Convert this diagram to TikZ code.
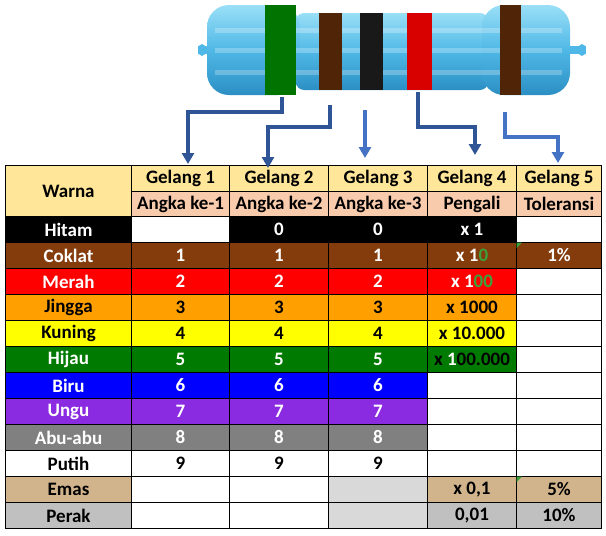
\documentclass[tikz,border=0pt]{standalone}
\usepackage{fontspec}
\setmainfont{Carlito}
\usetikzlibrary{arrows.meta}
\definecolor{hdr}{HTML}{FFE699}
\definecolor{hdrb}{HTML}{F8CBAD}
\definecolor{cok}{HTML}{843C0C}
\definecolor{mer}{HTML}{FF0000}
\definecolor{jin}{HTML}{FFA000}
\definecolor{kun}{HTML}{FFFF00}
\definecolor{hij}{HTML}{007A00}
\definecolor{bir}{HTML}{0000FF}
\definecolor{ung}{HTML}{8A2BE2}
\definecolor{abu}{HTML}{808080}
\definecolor{ema}{HTML}{D2B48C}
\definecolor{per}{HTML}{C0C0C0}
\definecolor{lgr}{HTML}{D9D9D9}
\definecolor{arA}{HTML}{2F5597}
\definecolor{arB}{HTML}{4472C4}
\definecolor{resb}{HTML}{4FB8E6}
\definecolor{resd}{HTML}{2C8FC4}
\definecolor{resl}{HTML}{9ADFF7}
\definecolor{gx}{HTML}{3CA03C}
\tikzset{
 cellbox/.style={draw=black,line width=1pt,inner sep=0pt,font=\fontsize{19}{20}\selectfont\bfseries},
 conn/.style={line width=3.4pt,-{Triangle[length=11pt,width=12pt]}},
 resbody/.style={top color=resl,bottom color=resd,middle color=resb},
}
\newcommand{\mycell}[8]{\node[cellbox,fill=#6,text=#7,minimum width=#3-#2,minimum height=#5-#4,anchor=north west] (#1) at (#2,#4) {#8};}
\begin{document}
\begin{tikzpicture}[x=1pt,y=-1pt]
\useasboundingbox (0,0) rectangle (606,536);
% resistor
\fill[resb] (202,50) ellipse (4 and 6);
\fill[resb] (582,50) ellipse (4 and 6);
\fill[resb] (198,46) rectangle (214,54);
\fill[resb] (570,46) rectangle (586,54);
\shade[resbody,rounded corners=8pt] (296,13) rectangle (488,90);
\shade[resbody,rounded corners=22pt] (207,5) rectangle (300,95);
\shade[resbody,rounded corners=22pt] (482,5) rectangle (570,95);
\foreach \yy in {28,48,70} {\fill[white,opacity=0.25] (215,\yy) rectangle (562,\yy+5);}
\fill[green!45!black] (265,5) rectangle (296,95);
\fill[cok!60!black] (319,13) rectangle (342,90);
\fill[black!90] (360,13) rectangle (383,90);
\fill[red!85!black] (407,13) rectangle (432,90);
\fill[cok!60!black] (500,5) rectangle (521,95);
% table
\mycell{w}{5}{131}{165}{216}{hdr}{black}{Warna}
\mycell{g1}{131}{229}{165}{191}{hdr}{black}{Gelang 1}
\mycell{g2}{229}{328}{165}{191}{hdr}{black}{Gelang 2}
\mycell{g3}{328}{427}{165}{191}{hdr}{black}{Gelang 3}
\mycell{g4}{427}{516}{165}{191}{hdr}{black}{Gelang 4}
\mycell{g5}{516}{601}{165}{191}{hdr}{black}{Gelang 5}
\mycell{a1}{131}{229}{191}{216}{hdrb}{black}{Angka ke-1}
\mycell{a2}{229}{328}{191}{216}{hdrb}{black}{Angka ke-2}
\mycell{a3}{328}{427}{191}{216}{hdrb}{black}{Angka ke-3}
\mycell{a4}{427}{516}{191}{216}{hdrb}{black}{Pengali}
\mycell{a5}{516}{601}{191}{216}{hdrb}{black}{Toleransi}
\newcommand{\rc}[6]{%
 \pgfmathsetmacro{\yt}{216+26*#1}\pgfmathsetmacro{\yb}{\yt+26}%
 \ifcase#2\or\def\xa{131}\def\xb{229}\or\def\xa{229}\def\xb{328}\or\def\xa{328}\def\xb{427}\or\def\xa{427}\def\xb{516}\or\def\xa{516}\def\xb{601}\fi
 \mycell{r#1c#2}{\xa}{\xb}{\yt}{\yb}{#3}{#4}{#5}}
\mycell{h0}{5}{131}{216}{242}{black}{white}{Hitam}
\rc{0}{1}{white}{black}{}{} \rc{0}{2}{black}{white}{0}{} \rc{0}{3}{black}{white}{0}{} \rc{0}{4}{black}{white}{x 1}{} \rc{0}{5}{white}{black}{}{}
\mycell{h1}{5}{131}{242}{268}{cok}{white}{Coklat}
\rc{1}{1}{cok}{white}{1}{} \rc{1}{2}{cok}{white}{1}{} \rc{1}{3}{cok}{white}{1}{} \rc{1}{4}{cok}{white}{x 1\textcolor{gx}{0}}{} \rc{1}{5}{cok}{white}{1\%}{}
\mycell{h2}{5}{131}{268}{294}{mer}{white}{Merah}
\rc{2}{1}{mer}{white}{2}{} \rc{2}{2}{mer}{white}{2}{} \rc{2}{3}{mer}{white}{2}{} \rc{2}{4}{mer}{white}{x 1\textcolor{gx}{00}}{} \rc{2}{5}{white}{black}{}{}
\mycell{h3}{5}{131}{294}{320}{jin}{black}{Jingga}
\rc{3}{1}{jin}{black}{3}{} \rc{3}{2}{jin}{black}{3}{} \rc{3}{3}{jin}{black}{3}{} \rc{3}{4}{jin}{black}{x 1000}{} \rc{3}{5}{white}{black}{}{}
\mycell{h4}{5}{131}{320}{346}{kun}{black}{Kuning}
\rc{4}{1}{kun}{black}{4}{} \rc{4}{2}{kun}{black}{4}{} \rc{4}{3}{kun}{black}{4}{} \rc{4}{4}{kun}{black}{x 10.000}{} \rc{4}{5}{white}{black}{}{}
\mycell{h5}{5}{131}{346}{372}{hij}{white}{Hijau}
\rc{5}{1}{hij}{white}{5}{} \rc{5}{2}{hij}{white}{5}{} \rc{5}{3}{hij}{white}{5}{} \rc{5}{4}{hij}{black}{x \textcolor{white}{1}00.000}{} \rc{5}{5}{white}{black}{}{}
\mycell{h6}{5}{131}{372}{398}{bir}{white}{Biru}
\rc{6}{1}{bir}{white}{6}{} \rc{6}{2}{bir}{white}{6}{} \rc{6}{3}{bir}{white}{6}{} \rc{6}{4}{white}{black}{}{} \rc{6}{5}{white}{black}{}{}
\mycell{h7}{5}{131}{398}{424}{ung}{white}{Ungu}
\rc{7}{1}{ung}{white}{7}{} \rc{7}{2}{ung}{white}{7}{} \rc{7}{3}{ung}{white}{7}{} \rc{7}{4}{white}{black}{}{} \rc{7}{5}{white}{black}{}{}
\mycell{h8}{5}{131}{424}{450}{abu}{white}{Abu-abu}
\rc{8}{1}{abu}{white}{8}{} \rc{8}{2}{abu}{white}{8}{} \rc{8}{3}{abu}{white}{8}{} \rc{8}{4}{white}{black}{}{} \rc{8}{5}{white}{black}{}{}
\mycell{h9}{5}{131}{450}{476}{white}{black}{Putih}
\rc{9}{1}{white}{black}{9}{} \rc{9}{2}{white}{black}{9}{} \rc{9}{3}{white}{black}{9}{} \rc{9}{4}{white}{black}{}{} \rc{9}{5}{white}{black}{}{}
\mycell{h10}{5}{131}{476}{502}{ema}{black}{Emas}
\rc{10}{1}{white}{black}{}{} \rc{10}{2}{white}{black}{}{} \rc{10}{3}{lgr}{black}{}{} \rc{10}{4}{ema}{black}{x 0,1}{} \rc{10}{5}{ema}{black}{5\%}{}
\mycell{h11}{5}{131}{502}{528}{per}{black}{Perak}
\rc{11}{1}{white}{black}{}{} \rc{11}{2}{white}{black}{}{} \rc{11}{3}{lgr}{black}{}{} \rc{11}{4}{per}{black}{0,01}{} \rc{11}{5}{per}{black}{10\%}{}
\fill[gx] (516.5,242.5) -- (522,242.5) -- (516.5,248) -- cycle;
\fill[gx] (516.5,476.5) -- (522,476.5) -- (516.5,482) -- cycle;
% arrows
\coordinate (s1) at (282,97); \coordinate (s2) at (330,105); \coordinate (s3) at (365,110);
\coordinate (s4) at (418,92); \coordinate (s5) at (505,112);
\draw[conn,arA] (s1) -- (282,112) -| ([yshift=1pt]g1.north -| 188,0);
\draw[conn,arA] (s2) -- (330,127) -| ([yshift=-3pt]g2.north -| 268,0);
\draw[conn,arB] (s3) -- ([yshift=7pt]g3.north -| 365,0);
\draw[conn,arA] (s4) -- (418,127) -| ([yshift=10pt]g4.north -| 475,0);
\draw[conn,arB] (s5) -- (505,137) -| ([yshift=2pt]g5.north -| 558,0);
\end{tikzpicture}
\end{document}
